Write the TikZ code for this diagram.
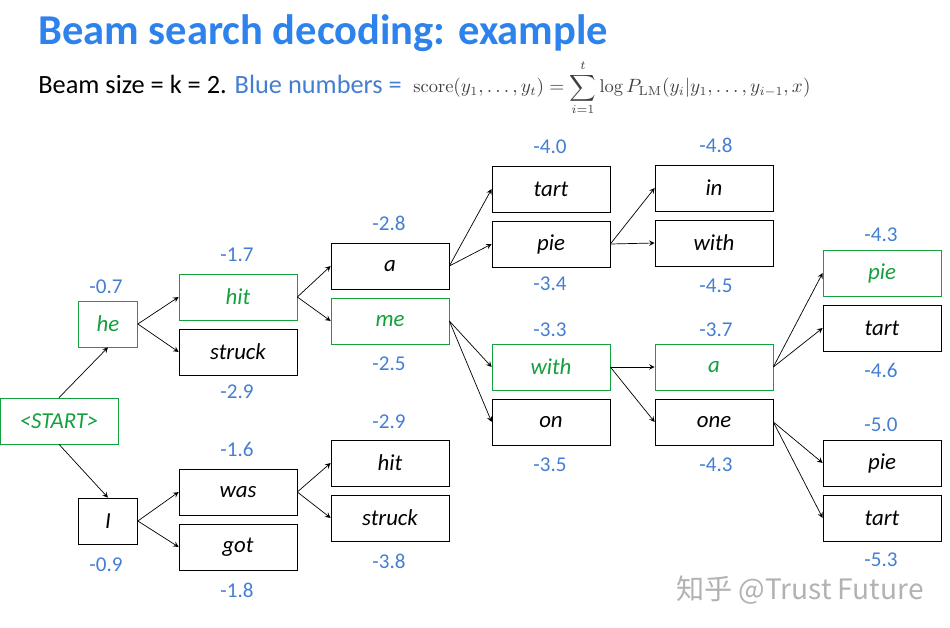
\documentclass[tikz,border=0pt]{standalone}
\usepackage{amsmath, amssymb}
\usepackage{xcolor}
\usepackage{fontspec}
\setsansfont{Carlito}
\newfontfamily\cjk{Noto Sans CJK SC}
\definecolor{beamblue}{RGB}{68,126,210}
\definecolor{titleblue}{RGB}{45,130,235}
\definecolor{beamgreen}{RGB}{20,160,60}
\tikzset{
  word/.style={draw, thin, minimum width=2.36cm, minimum height=0.92cm, font=\sffamily\itshape\fontsize{13}{15}\selectfont, inner sep=0pt},
  best/.style={word, draw=beamgreen, text=beamgreen},
  score/.style={text=beamblue, font=\sffamily\fontsize{12}{14}\selectfont},
  link/.style={->, >=stealth, thin}
}
\begin{document}
\begin{tikzpicture}[x=0.02cm, y=-0.02cm]
			\useasboundingbox (0,0) rectangle (950,628);
			% Title and subtitle
			\node[anchor=west, text=titleblue, font=\sffamily\bfseries\fontsize{24.2}{27}\selectfont, inner sep=0pt] (title) at (38,33) {Beam search decoding: example};
			\node[anchor=west, font=\sffamily\fontsize{15}{17}\selectfont, inner sep=0pt] (sub) at (38,84) {Beam size = k = 2. \textcolor{beamblue}{Blue numbers =}};
			\node[anchor=west, inner sep=0pt, text=black!75] (formula) at (413,88) {\fontsize{10.5}{12}\selectfont $\displaystyle \mathrm{score}(y_1,\ldots,y_t)=\sum_{i=1}^{t}\log P_{\mathrm{LM}}(y_i|y_1,\ldots,y_{i-1},x)$};

			% Words
			\node[best, minimum width=2.36cm] (start) at (59,421) {<START>};
			\node[best, minimum width=1.18cm] (he) at (108,324) {he};
			\node[word, minimum width=1.18cm] (I) at (108,521) {I};
			\node[best] (hit) at (238,297) {hit};
			\node[word] (struck) at (238,352) {struck};
			\node[word] (was) at (238,492) {was};
			\node[word] (got) at (238,547) {got};
			\node[word] (a) at (390,266) {a};
			\node[best] (me) at (390,321) {me};
			\node[word] (hitb) at (390,463) {hit};
			\node[word] (struckb) at (390,518) {struck};
			\node[word] (tart) at (551,189) {tart};
			\node[word] (pie) at (551,244) {pie};
			\node[best] (with) at (551,367) {with};
			\node[word] (on) at (551,422) {on};
			\node[word] (in) at (714,188) {in};
			\node[word] (withb) at (714,243) {with};
			\node[best] (ab) at (714,367) {a};
			\node[word] (one) at (714,422) {one};
			\node[best] (piec) at (882,273) {pie};
			\node[word] (tartc) at (882,328) {tart};
			\node[word] (pied) at (882,463) {pie};
			\node[word] (tartd) at (882,518) {tart};

			% Scores
			\node[score] at (106,287) {-0.7};
			\node[score] at (106,565) {-0.9};
			\node[score] at (237,255) {-1.7};
			\node[score] at (237,392) {-2.9};
			\node[score] at (237,449) {-1.6};
			\node[score] at (237,590) {-1.8};
			\node[score] at (389,223) {-2.8};
			\node[score] at (389,364) {-2.5};
			\node[score] at (389,422) {-2.9};
			\node[score] at (389,561) {-3.8};
			\node[score] at (550,147) {-4.0};
			\node[score] at (550,284) {-3.4};
			\node[score] at (550,330) {-3.3};
			\node[score] at (550,465) {-3.5};
			\node[score] at (716,145) {-4.8};
			\node[score] at (716,286) {-4.5};
			\node[score] at (716,330) {-3.7};
			\node[score] at (716,465) {-4.3};
			\node[score] at (881,235) {-4.3};
			\node[score] at (881,370) {-4.6};
			\node[score] at (881,425) {-5.0};
			\node[score] at (881,560) {-5.3};

			% Links
			\draw[link] (start.north) -- (he.south);
			\draw[link] (start.south) -- (I.north);
			\foreach \p/\c in {he/hit, he/struck, I/was, I/got, hit/a, hit/me, was/hitb, was/struckb,
				a/tart, a/pie, me/with, me/on, pie/in, pie/withb, with/ab, with/one,
				ab/piec, ab/tartc, one/pied, one/tartd}
			\draw[link] (\p.east) -- (\c.west);

			% Watermark
			\node[anchor=east, text=black!30, font=\cjk\fontsize{16}{18}\selectfont] (mark) at (930,590) {知乎 @Trust Future};
		\end{tikzpicture}
\end{document}
